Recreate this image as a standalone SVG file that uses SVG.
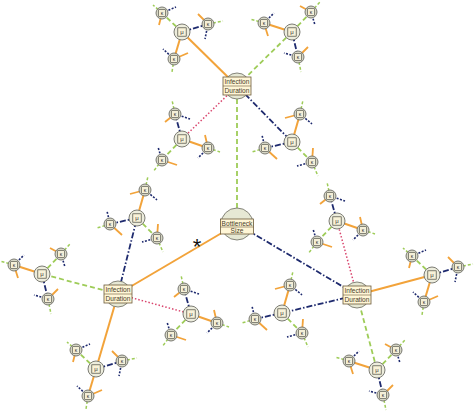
<svg xmlns="http://www.w3.org/2000/svg" width="474" height="413" viewBox="0 0 474 413">
<style>
.o{stroke:#F2A33A;stroke-width:2;fill:none}
.g{stroke:#9ECC58;stroke-width:1.8;stroke-dasharray:5 3;fill:none}
.n{stroke:#1E2A6E;stroke-width:1.8;stroke-dasharray:6 2 1.5 2;fill:none}
.r{stroke:#D9466E;stroke-width:1.5;stroke-dasharray:1.5 2;fill:none}
.so{stroke:#F2A33A;stroke-width:1.8}
.sg{stroke:#9ECC58;stroke-width:1.5;stroke-dasharray:3 2}
.sn{stroke:#1E2A6E;stroke-width:1.6;stroke-dasharray:2 1.5}
.k circle{fill:#D6D6C6;stroke:#6E6E66;stroke-width:0.9}
.k rect{fill:#F4EFD8;stroke:#4A4A40;stroke-width:0.6}
.k text{font-family:'Liberation Sans',Arial,sans-serif;font-size:5px;text-anchor:middle;fill:#333}
.m circle{fill:#EDEDDD;stroke:#7C7C74;stroke-width:1}
.m rect{fill:#F8F2D8;stroke:#4A4A40;stroke-width:0.7}
.m text{font-family:'Liberation Sans',Arial,sans-serif;font-size:6px;text-anchor:middle;fill:#333}
.big circle{fill:#E6E8D4;stroke:#85857A;stroke-width:1}
.big rect{fill:#FFF6D6;stroke:#6B5A3A;stroke-width:0.8}
.big line{stroke:#6B5A3A;stroke-width:0.6}
.big text{font-family:'Liberation Sans',Arial,sans-serif;font-size:6.6px;text-anchor:middle;fill:#4A3E2A}
</style>
<defs>
<g id="tA">
<line class="g" x1="0" y1="0" x2="-20" y2="-19"/>
<line class="sg" x1="-20" y1="-19" x2="-29" y2="-27"/>
<line class="sn" x1="-20" y1="-19" x2="-6" y2="-25"/>
<line class="so" x1="-20" y1="-19" x2="-23" y2="-7"/>
<line class="n" x1="0" y1="0" x2="26" y2="-8"/>
<line class="so" x1="26" y1="-8" x2="16" y2="-18"/>
<line class="sg" x1="26" y1="-8" x2="41" y2="-11"/>
<line class="sn" x1="26" y1="-8" x2="23" y2="7"/>
<line class="o" x1="0" y1="0" x2="-8" y2="27"/>
<line class="sn" x1="-8" y1="27" x2="-19" y2="17"/>
<line class="so" x1="-8" y1="27" x2="6" y2="21"/>
<line class="sg" x1="-8" y1="27" x2="-10" y2="40"/>
</g>
<g id="tB">
<line class="o" x1="0" y1="0" x2="-28" y2="-9"/>
<line class="sg" x1="-28" y1="-9" x2="-42" y2="-13"/>
<line class="sn" x1="-28" y1="-9" x2="-18" y2="-19"/>
<line class="so" x1="-28" y1="-9" x2="-24" y2="4"/>
<line class="g" x1="0" y1="0" x2="19" y2="-20"/>
<line class="so" x1="19" y1="-20" x2="8" y2="-26"/>
<line class="sn" x1="19" y1="-20" x2="23" y2="-7"/>
<line class="sg" x1="19" y1="-20" x2="28" y2="-30"/>
<line class="n" x1="0" y1="0" x2="6" y2="25"/>
<line class="sn" x1="6" y1="25" x2="-8" y2="21"/>
<line class="so" x1="6" y1="25" x2="16" y2="15"/>
<line class="sg" x1="6" y1="25" x2="9" y2="40"/>
</g>
<g id="tC">
<line class="n" x1="0" y1="0" x2="-7" y2="-25"/>
<line class="sg" x1="-7" y1="-25" x2="-10" y2="-39"/>
<line class="sn" x1="-7" y1="-25" x2="8" y2="-20"/>
<line class="so" x1="-7" y1="-25" x2="-17" y2="-17"/>
<line class="o" x1="0" y1="0" x2="26" y2="9"/>
<line class="so" x1="26" y1="9" x2="23" y2="-4"/>
<line class="sg" x1="26" y1="9" x2="38" y2="13"/>
<line class="sn" x1="26" y1="9" x2="16" y2="19"/>
<line class="g" x1="0" y1="0" x2="-20" y2="21"/>
<line class="sn" x1="-20" y1="21" x2="-24" y2="8"/>
<line class="so" x1="-20" y1="21" x2="-5" y2="26"/>
<line class="sg" x1="-20" y1="21" x2="-29" y2="33"/>
</g>
<g id="tD">
<line class="o" x1="0" y1="0" x2="8" y2="-28"/>
<line class="so" x1="8" y1="-28" x2="-7" y2="-24"/>
<line class="sg" x1="8" y1="-28" x2="11" y2="-42"/>
<line class="sn" x1="8" y1="-28" x2="20" y2="-18"/>
<line class="n" x1="0" y1="0" x2="-27" y2="6"/>
<line class="sn" x1="-27" y1="6" x2="-30" y2="-7"/>
<line class="sg" x1="-27" y1="6" x2="-40" y2="10"/>
<line class="so" x1="-27" y1="6" x2="-15" y2="17"/>
<line class="g" x1="0" y1="0" x2="20" y2="20"/>
<line class="sn" x1="20" y1="20" x2="5" y2="24"/>
<line class="so" x1="20" y1="20" x2="21" y2="6"/>
<line class="sg" x1="20" y1="20" x2="26" y2="34"/>
</g>
</defs>

<g id="connectors">
<line class="g" x1="237" y1="224" x2="237" y2="86"/>
<line class="o" x1="237" y1="224" x2="118" y2="294"/>
<line class="n" x1="237" y1="224" x2="357" y2="295"/>
<line class="o" x1="237" y1="86" x2="182" y2="32"/>
<line class="g" x1="237" y1="86" x2="292" y2="32"/>
<line class="r" x1="237" y1="86" x2="182" y2="139"/>
<line class="n" x1="237" y1="86" x2="292" y2="142"/>
<line class="o" x1="118" y1="294" x2="96" y2="369"/>
<line class="g" x1="118" y1="294" x2="42" y2="274"/>
<line class="r" x1="118" y1="294" x2="191" y2="314"/>
<line class="n" x1="118" y1="294" x2="137" y2="218"/>
<line class="o" x1="357" y1="295" x2="432" y2="275"/>
<line class="g" x1="357" y1="295" x2="377" y2="370"/>
<line class="r" x1="357" y1="295" x2="337" y2="221"/>
<line class="n" x1="357" y1="295" x2="282" y2="313"/>
<use href="#tA" x="182" y="32"/>
<use href="#tB" x="292" y="32"/>
<use href="#tC" x="182" y="139"/>
<use href="#tD" x="292" y="142"/>
<use href="#tA" x="96" y="369"/>
<use href="#tB" x="42" y="274"/>
<use href="#tC" x="191" y="314"/>
<use href="#tD" x="137" y="218"/>
<use href="#tA" x="432" y="275"/>
<use href="#tB" x="377" y="370"/>
<use href="#tC" x="337" y="221"/>
<use href="#tD" x="282" y="313"/>
</g>

<g id="bottleneck" class="big" transform="translate(237,224)">
<circle r="16"/>
<rect x="-16.5" y="-5" width="33" height="15"/>
<line x1="-16.5" y1="3" x2="16.5" y2="3"/>
<text y="1.5">Bottleneck</text>
<text y="8.8">Size</text>
</g>
<g id="id-top" class="big" transform="translate(237,86)">
<circle r="13"/>
<rect x="-14" y="-9" width="28" height="18"/>
<line x1="-14" y1="0" x2="14" y2="0"/>
<text y="-2">Infection</text>
<text y="7">Duration</text>
</g>
<g id="id-left" class="big" transform="translate(118,294)">
<circle r="13"/>
<rect x="-14" y="-9" width="28" height="18"/>
<line x1="-14" y1="0" x2="14" y2="0"/>
<text y="-2">Infection</text>
<text y="7">Duration</text>
</g>
<g id="id-right" class="big" transform="translate(357,295)">
<circle r="13"/>
<rect x="-14" y="-9" width="28" height="18"/>
<line x1="-14" y1="0" x2="14" y2="0"/>
<text y="-2">Infection</text>
<text y="7">Duration</text>
</g>

<g transform="translate(182,32)">
<g id="mu-TA" class="m"><circle r="8"/><rect x="-4.2" y="-4.2" width="8.4" height="8.4"/><text y="2.2">μ</text></g>
<g id="k-TA1" class="k" transform="translate(-20,-19)"><circle r="6"/><rect x="-3.3" y="-3.3" width="6.6" height="6.6"/><text y="1.9">κ</text></g>
<g id="k-TA2" class="k" transform="translate(26,-8)"><circle r="6"/><rect x="-3.3" y="-3.3" width="6.6" height="6.6"/><text y="1.9">κ</text></g>
<g id="k-TA3" class="k" transform="translate(-8,27)"><circle r="6"/><rect x="-3.3" y="-3.3" width="6.6" height="6.6"/><text y="1.9">κ</text></g>
</g>
<g transform="translate(292,32)">
<g id="mu-TB" class="m"><circle r="8"/><rect x="-4.2" y="-4.2" width="8.4" height="8.4"/><text y="2.2">μ</text></g>
<g id="k-TB1" class="k" transform="translate(-28,-9)"><circle r="6"/><rect x="-3.3" y="-3.3" width="6.6" height="6.6"/><text y="1.9">κ</text></g>
<g id="k-TB2" class="k" transform="translate(19,-20)"><circle r="6"/><rect x="-3.3" y="-3.3" width="6.6" height="6.6"/><text y="1.9">κ</text></g>
<g id="k-TB3" class="k" transform="translate(6,25)"><circle r="6"/><rect x="-3.3" y="-3.3" width="6.6" height="6.6"/><text y="1.9">κ</text></g>
</g>
<g transform="translate(182,139)">
<g id="mu-TC" class="m"><circle r="8"/><rect x="-4.2" y="-4.2" width="8.4" height="8.4"/><text y="2.2">μ</text></g>
<g id="k-TC1" class="k" transform="translate(-7,-25)"><circle r="6"/><rect x="-3.3" y="-3.3" width="6.6" height="6.6"/><text y="1.9">κ</text></g>
<g id="k-TC2" class="k" transform="translate(26,9)"><circle r="6"/><rect x="-3.3" y="-3.3" width="6.6" height="6.6"/><text y="1.9">κ</text></g>
<g id="k-TC3" class="k" transform="translate(-20,21)"><circle r="6"/><rect x="-3.3" y="-3.3" width="6.6" height="6.6"/><text y="1.9">κ</text></g>
</g>
<g transform="translate(292,142)">
<g id="mu-TD" class="m"><circle r="8"/><rect x="-4.2" y="-4.2" width="8.4" height="8.4"/><text y="2.2">μ</text></g>
<g id="k-TD1" class="k" transform="translate(8,-28)"><circle r="6"/><rect x="-3.3" y="-3.3" width="6.6" height="6.6"/><text y="1.9">κ</text></g>
<g id="k-TD2" class="k" transform="translate(-27,6)"><circle r="6"/><rect x="-3.3" y="-3.3" width="6.6" height="6.6"/><text y="1.9">κ</text></g>
<g id="k-TD3" class="k" transform="translate(20,20)"><circle r="6"/><rect x="-3.3" y="-3.3" width="6.6" height="6.6"/><text y="1.9">κ</text></g>
</g>

<g transform="translate(96,369)">
<g id="mu-LA" class="m"><circle r="8"/><rect x="-4.2" y="-4.2" width="8.4" height="8.4"/><text y="2.2">μ</text></g>
<g id="k-LA1" class="k" transform="translate(-20,-19)"><circle r="6"/><rect x="-3.3" y="-3.3" width="6.6" height="6.6"/><text y="1.9">κ</text></g>
<g id="k-LA2" class="k" transform="translate(26,-8)"><circle r="6"/><rect x="-3.3" y="-3.3" width="6.6" height="6.6"/><text y="1.9">κ</text></g>
<g id="k-LA3" class="k" transform="translate(-8,27)"><circle r="6"/><rect x="-3.3" y="-3.3" width="6.6" height="6.6"/><text y="1.9">κ</text></g>
</g>
<g transform="translate(42,274)">
<g id="mu-LB" class="m"><circle r="8"/><rect x="-4.2" y="-4.2" width="8.4" height="8.4"/><text y="2.2">μ</text></g>
<g id="k-LB1" class="k" transform="translate(-28,-9)"><circle r="6"/><rect x="-3.3" y="-3.3" width="6.6" height="6.6"/><text y="1.9">κ</text></g>
<g id="k-LB2" class="k" transform="translate(19,-20)"><circle r="6"/><rect x="-3.3" y="-3.3" width="6.6" height="6.6"/><text y="1.9">κ</text></g>
<g id="k-LB3" class="k" transform="translate(6,25)"><circle r="6"/><rect x="-3.3" y="-3.3" width="6.6" height="6.6"/><text y="1.9">κ</text></g>
</g>
<g transform="translate(191,314)">
<g id="mu-LC" class="m"><circle r="8"/><rect x="-4.2" y="-4.2" width="8.4" height="8.4"/><text y="2.2">μ</text></g>
<g id="k-LC1" class="k" transform="translate(-7,-25)"><circle r="6"/><rect x="-3.3" y="-3.3" width="6.6" height="6.6"/><text y="1.9">κ</text></g>
<g id="k-LC2" class="k" transform="translate(26,9)"><circle r="6"/><rect x="-3.3" y="-3.3" width="6.6" height="6.6"/><text y="1.9">κ</text></g>
<g id="k-LC3" class="k" transform="translate(-20,21)"><circle r="6"/><rect x="-3.3" y="-3.3" width="6.6" height="6.6"/><text y="1.9">κ</text></g>
</g>
<g transform="translate(137,218)">
<g id="mu-LD" class="m"><circle r="8"/><rect x="-4.2" y="-4.2" width="8.4" height="8.4"/><text y="2.2">μ</text></g>
<g id="k-LD1" class="k" transform="translate(8,-28)"><circle r="6"/><rect x="-3.3" y="-3.3" width="6.6" height="6.6"/><text y="1.9">κ</text></g>
<g id="k-LD2" class="k" transform="translate(-27,6)"><circle r="6"/><rect x="-3.3" y="-3.3" width="6.6" height="6.6"/><text y="1.9">κ</text></g>
<g id="k-LD3" class="k" transform="translate(20,20)"><circle r="6"/><rect x="-3.3" y="-3.3" width="6.6" height="6.6"/><text y="1.9">κ</text></g>
</g>

<g transform="translate(432,275)">
<g id="mu-RA" class="m"><circle r="8"/><rect x="-4.2" y="-4.2" width="8.4" height="8.4"/><text y="2.2">μ</text></g>
<g id="k-RA1" class="k" transform="translate(-20,-19)"><circle r="6"/><rect x="-3.3" y="-3.3" width="6.6" height="6.6"/><text y="1.9">κ</text></g>
<g id="k-RA2" class="k" transform="translate(26,-8)"><circle r="6"/><rect x="-3.3" y="-3.3" width="6.6" height="6.6"/><text y="1.9">κ</text></g>
<g id="k-RA3" class="k" transform="translate(-8,27)"><circle r="6"/><rect x="-3.3" y="-3.3" width="6.6" height="6.6"/><text y="1.9">κ</text></g>
</g>
<g transform="translate(377,370)">
<g id="mu-RB" class="m"><circle r="8"/><rect x="-4.2" y="-4.2" width="8.4" height="8.4"/><text y="2.2">μ</text></g>
<g id="k-RB1" class="k" transform="translate(-28,-9)"><circle r="6"/><rect x="-3.3" y="-3.3" width="6.6" height="6.6"/><text y="1.9">κ</text></g>
<g id="k-RB2" class="k" transform="translate(19,-20)"><circle r="6"/><rect x="-3.3" y="-3.3" width="6.6" height="6.6"/><text y="1.9">κ</text></g>
<g id="k-RB3" class="k" transform="translate(6,25)"><circle r="6"/><rect x="-3.3" y="-3.3" width="6.6" height="6.6"/><text y="1.9">κ</text></g>
</g>
<g transform="translate(337,221)">
<g id="mu-RC" class="m"><circle r="8"/><rect x="-4.2" y="-4.2" width="8.4" height="8.4"/><text y="2.2">μ</text></g>
<g id="k-RC1" class="k" transform="translate(-7,-25)"><circle r="6"/><rect x="-3.3" y="-3.3" width="6.6" height="6.6"/><text y="1.9">κ</text></g>
<g id="k-RC2" class="k" transform="translate(26,9)"><circle r="6"/><rect x="-3.3" y="-3.3" width="6.6" height="6.6"/><text y="1.9">κ</text></g>
<g id="k-RC3" class="k" transform="translate(-20,21)"><circle r="6"/><rect x="-3.3" y="-3.3" width="6.6" height="6.6"/><text y="1.9">κ</text></g>
</g>
<g transform="translate(282,313)">
<g id="mu-RD" class="m"><circle r="8"/><rect x="-4.2" y="-4.2" width="8.4" height="8.4"/><text y="2.2">μ</text></g>
<g id="k-RD1" class="k" transform="translate(8,-28)"><circle r="6"/><rect x="-3.3" y="-3.3" width="6.6" height="6.6"/><text y="1.9">κ</text></g>
<g id="k-RD2" class="k" transform="translate(-27,6)"><circle r="6"/><rect x="-3.3" y="-3.3" width="6.6" height="6.6"/><text y="1.9">κ</text></g>
<g id="k-RD3" class="k" transform="translate(20,20)"><circle r="6"/><rect x="-3.3" y="-3.3" width="6.6" height="6.6"/><text y="1.9">κ</text></g>
</g>

<text id="asterisk" x="197" y="253.5" font-family="'Liberation Sans',Arial,sans-serif" font-size="22" text-anchor="middle" fill="#111">*</text>
</svg>
